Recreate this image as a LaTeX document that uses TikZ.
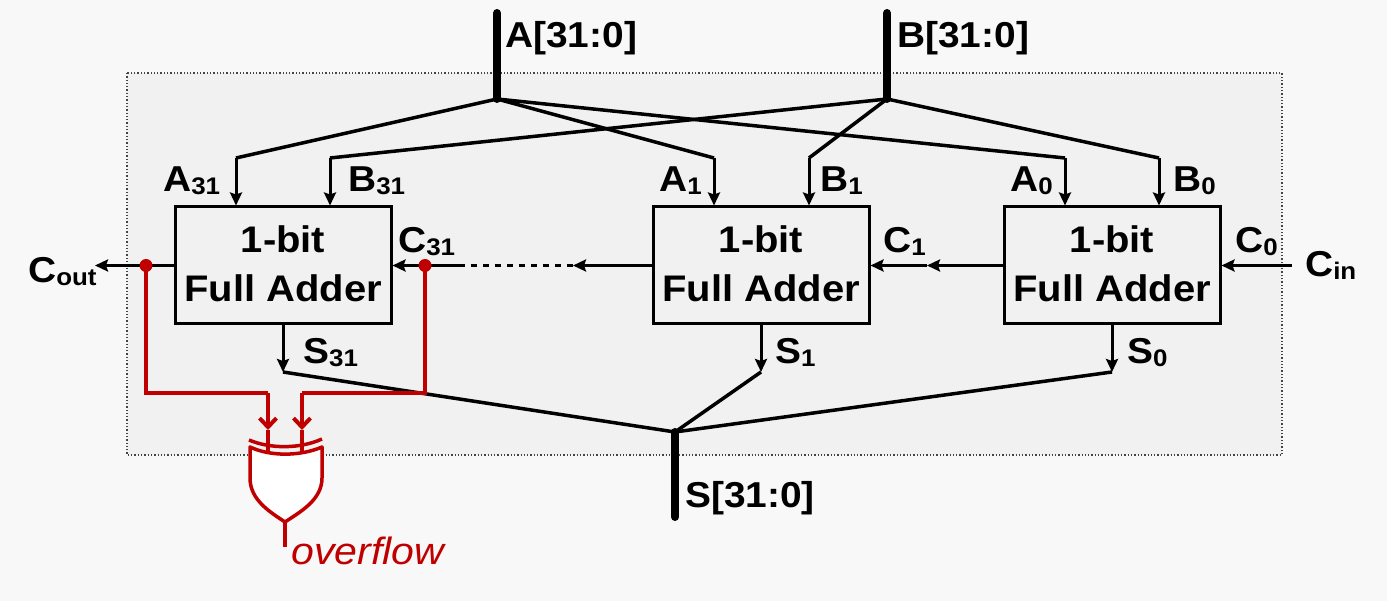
\documentclass[tikz,border=0pt]{standalone}
\usepackage{fontspec}
\setmainfont{Liberation Sans}[FakeStretch=1.08]
\usetikzlibrary{arrows.meta}
\definecolor{bgout}{HTML}{F8F8F8}
\definecolor{bgin}{HTML}{F1F1F1}
\definecolor{dred}{HTML}{C00000}
\definecolor{dotc}{HTML}{444444}
\newcommand\sigl[2]{#1\raisebox{-3pt}{\fontsize{24}{24}\selectfont #2}}
\tikzset{
  lbl/.style={anchor=base west, inner sep=0pt, font=\fontsize{36}{40}\selectfont\bfseries},
  boxtxt/.style={anchor=base, inner sep=0pt, font=\fontsize{37}{40}\selectfont\bfseries},
  fa/.style={draw, line width=3pt, minimum width=216pt, minimum height=117pt, inner sep=0pt, fill=bgin},
  bus/.style={line width=8pt, line cap=round},
  fan/.style={line width=3.5pt, line join=round},
  arr/.style={line width=3pt, -{Stealth[length=13pt,width=12pt,inset=2pt]}},
  sig/.style={line width=3pt},
  rl/.style={draw=dred, line width=4pt},
  rarr/.style={draw=dred, line width=4pt, -{Straight Barb[length=9pt,width=17pt]}},
}
\begin{document}
\begin{tikzpicture}[x=1pt,y=-1pt]
\path[use as bounding box, fill=bgout] (0,0) rectangle (1387,601);
\draw[dotc, line width=1.3pt, dotted, fill=bgin] (127,73) rectangle (1282,455);

% adders
\node[fa] (fa31) at (283,265.5) {};
\node[fa] (fa1) at (761,265.5) {};
\node[fa] (fa0) at (1112,265.5) {};
\node[boxtxt] (fa31a) at (283,253) {1-bit};
\node[boxtxt] (fa31b) at (283,302) {Full Adder};
\node[boxtxt] (fa1a) at (761,253) {1-bit};
\node[boxtxt] (fa1b) at (761,302) {Full Adder};
\node[boxtxt] (fa0a) at (1112,253) {1-bit};
\node[boxtxt] (fa0b) at (1112,302) {Full Adder};

% input buses
\coordinate (atop) at (497,13);
\coordinate (asplit) at (497,99);
\coordinate (btop) at (887,13);
\coordinate (bsplit) at (887,99);
\node[lbl] (alab) at (505,48) {A[31:0]};
\node[lbl] (blab) at (897,48) {B[31:0]};

\coordinate (ka31) at (236,158);
\coordinate (ka1) at (714,158);
\coordinate (ka0) at (1065,158);
\coordinate (kb31) at (330,158);
\coordinate (kb1) at (809,158);
\coordinate (kb0) at (1159,158);

\draw[fan] (asplit) -- (ka31);
\draw[fan] (asplit) -- (ka1);
\draw[fan] (asplit) -- (ka0);
\draw[fan] (bsplit) -- (kb31);
\draw[fan] (bsplit) -- (kb1);
\draw[fan] (bsplit) -- (kb0);
\draw[bus] (atop) -- (asplit);
\draw[bus] (btop) -- (bsplit);

\draw[arr] (ka31) -- (ka31 |- fa31.north);
\draw[arr] (kb31) -- (kb31 |- fa31.north);
\draw[arr] (ka1) -- (ka1 |- fa1.north);
\draw[arr] (kb1) -- (kb1 |- fa1.north);
\draw[arr] (ka0) -- (ka0 |- fa0.north);
\draw[arr] (kb0) -- (kb0 |- fa0.north);

\node[lbl] (la31) at (163,192) {\sigl{A}{31}};
\node[lbl] (lb31) at (348,192) {\sigl{B}{31}};
\node[lbl] (la1) at (659,192) {\sigl{A}{1}};
\node[lbl] (lb1) at (820,192) {\sigl{B}{1}};
\node[lbl] (la0) at (1010,192) {\sigl{A}{0}};
\node[lbl] (lb0) at (1173,192) {\sigl{B}{0}};

% carry chain
\coordinate (cin) at (1292,265.5);
\coordinate (c1mid) at (927,265.5);
\coordinate (cd1) at (573,265.5);
\coordinate (cd0) at (463,265.5);
\coordinate (cout) at (95,265.5);
\draw[arr] (cin) -- (fa0.east);
\draw[arr] (fa0.west) -- (c1mid);
\draw[arr] (c1mid) -- (fa1.east);
\draw[arr] (fa1.west) -- (cd1);
\draw[sig, dash pattern=on 6pt off 6pt] (cd1) -- (cd0);
\draw[arr] (cd0) -- (fa31.east);
\draw[arr] (fa31.west) -- (cout);

\node[lbl] (lcin) at (1305,277) {\sigl{C}{in}};
\node[lbl] (lc0) at (1235,253) {\sigl{C}{0}};
\node[lbl] (lc1) at (883,253) {\sigl{C}{1}};
\node[lbl] (lc31) at (398,253) {\sigl{C}{31}};
\node[lbl] (lcout) at (28,283) {\sigl{C}{out}};

% sum outputs
\coordinate (s31) at (283,372);
\coordinate (s1) at (761,372);
\coordinate (s0) at (1112,372);
\coordinate (stop) at (675,432);
\coordinate (sbot) at (675,517);
\draw[arr] (fa31.south) -- (s31);
\draw[arr] (fa1.south) -- (s1);
\draw[arr] (fa0.south) -- (s0);
\draw[fan] (s31) -- (stop);
\draw[fan] (s1) -- (stop);
\draw[fan] (s0) -- (stop);
\draw[bus] (stop) -- (sbot);
\node[lbl] (ls31) at (303,364) {\sigl{S}{31}};
\node[lbl] (ls1) at (775,364) {\sigl{S}{1}};
\node[lbl] (ls0) at (1127,364) {\sigl{S}{0}};
\node[lbl] (lsbus) at (685,507) {S[31:0]};

% overflow logic
\coordinate (dco) at (146,265.5);
\coordinate (dc31) at (425,265.5);
\coordinate (ra) at (268,393);
\coordinate (rb) at (302,393);
\coordinate (xa) at (268,430);
\coordinate (xb) at (302,430);
\coordinate (xa0) at (268,452);
\coordinate (xb0) at (302,452);
\draw[rl] (dco) |- (ra);
\draw[rl] (dc31) |- (rb);
\draw[rarr] (ra) -- (xa);
\draw[rarr] (rb) -- (xb);
\draw[rl] (xa) -- (xa0);
\draw[rl] (xb) -- (xb0);
\fill[dred] (dco) circle (6.5pt);
\fill[dred] (dc31) circle (6.5pt);

% XOR gate
\draw[dred, line width=3.5pt, fill=white, line join=round]
  (250,447) .. controls (270,456.5) and (300,456.5) .. (322,447)
  -- (322,478) .. controls (322,500) and (300,512) .. (285,522)
  .. controls (270,512) and (250,500) .. (250,478) -- cycle;
\draw[dred, line width=3.5pt] (249,440) .. controls (270,449) and (300,449) .. (322,439);
\coordinate (xo) at (285,522);
\coordinate (xoe) at (285,547);
\draw[rl] (xo) -- (xoe);
\node[anchor=base west, inner sep=0pt, text=dred, font=\fontsize{38}{42}\selectfont\itshape] (ovf) at (291,564) {overflow};
\end{tikzpicture}
\end{document}
